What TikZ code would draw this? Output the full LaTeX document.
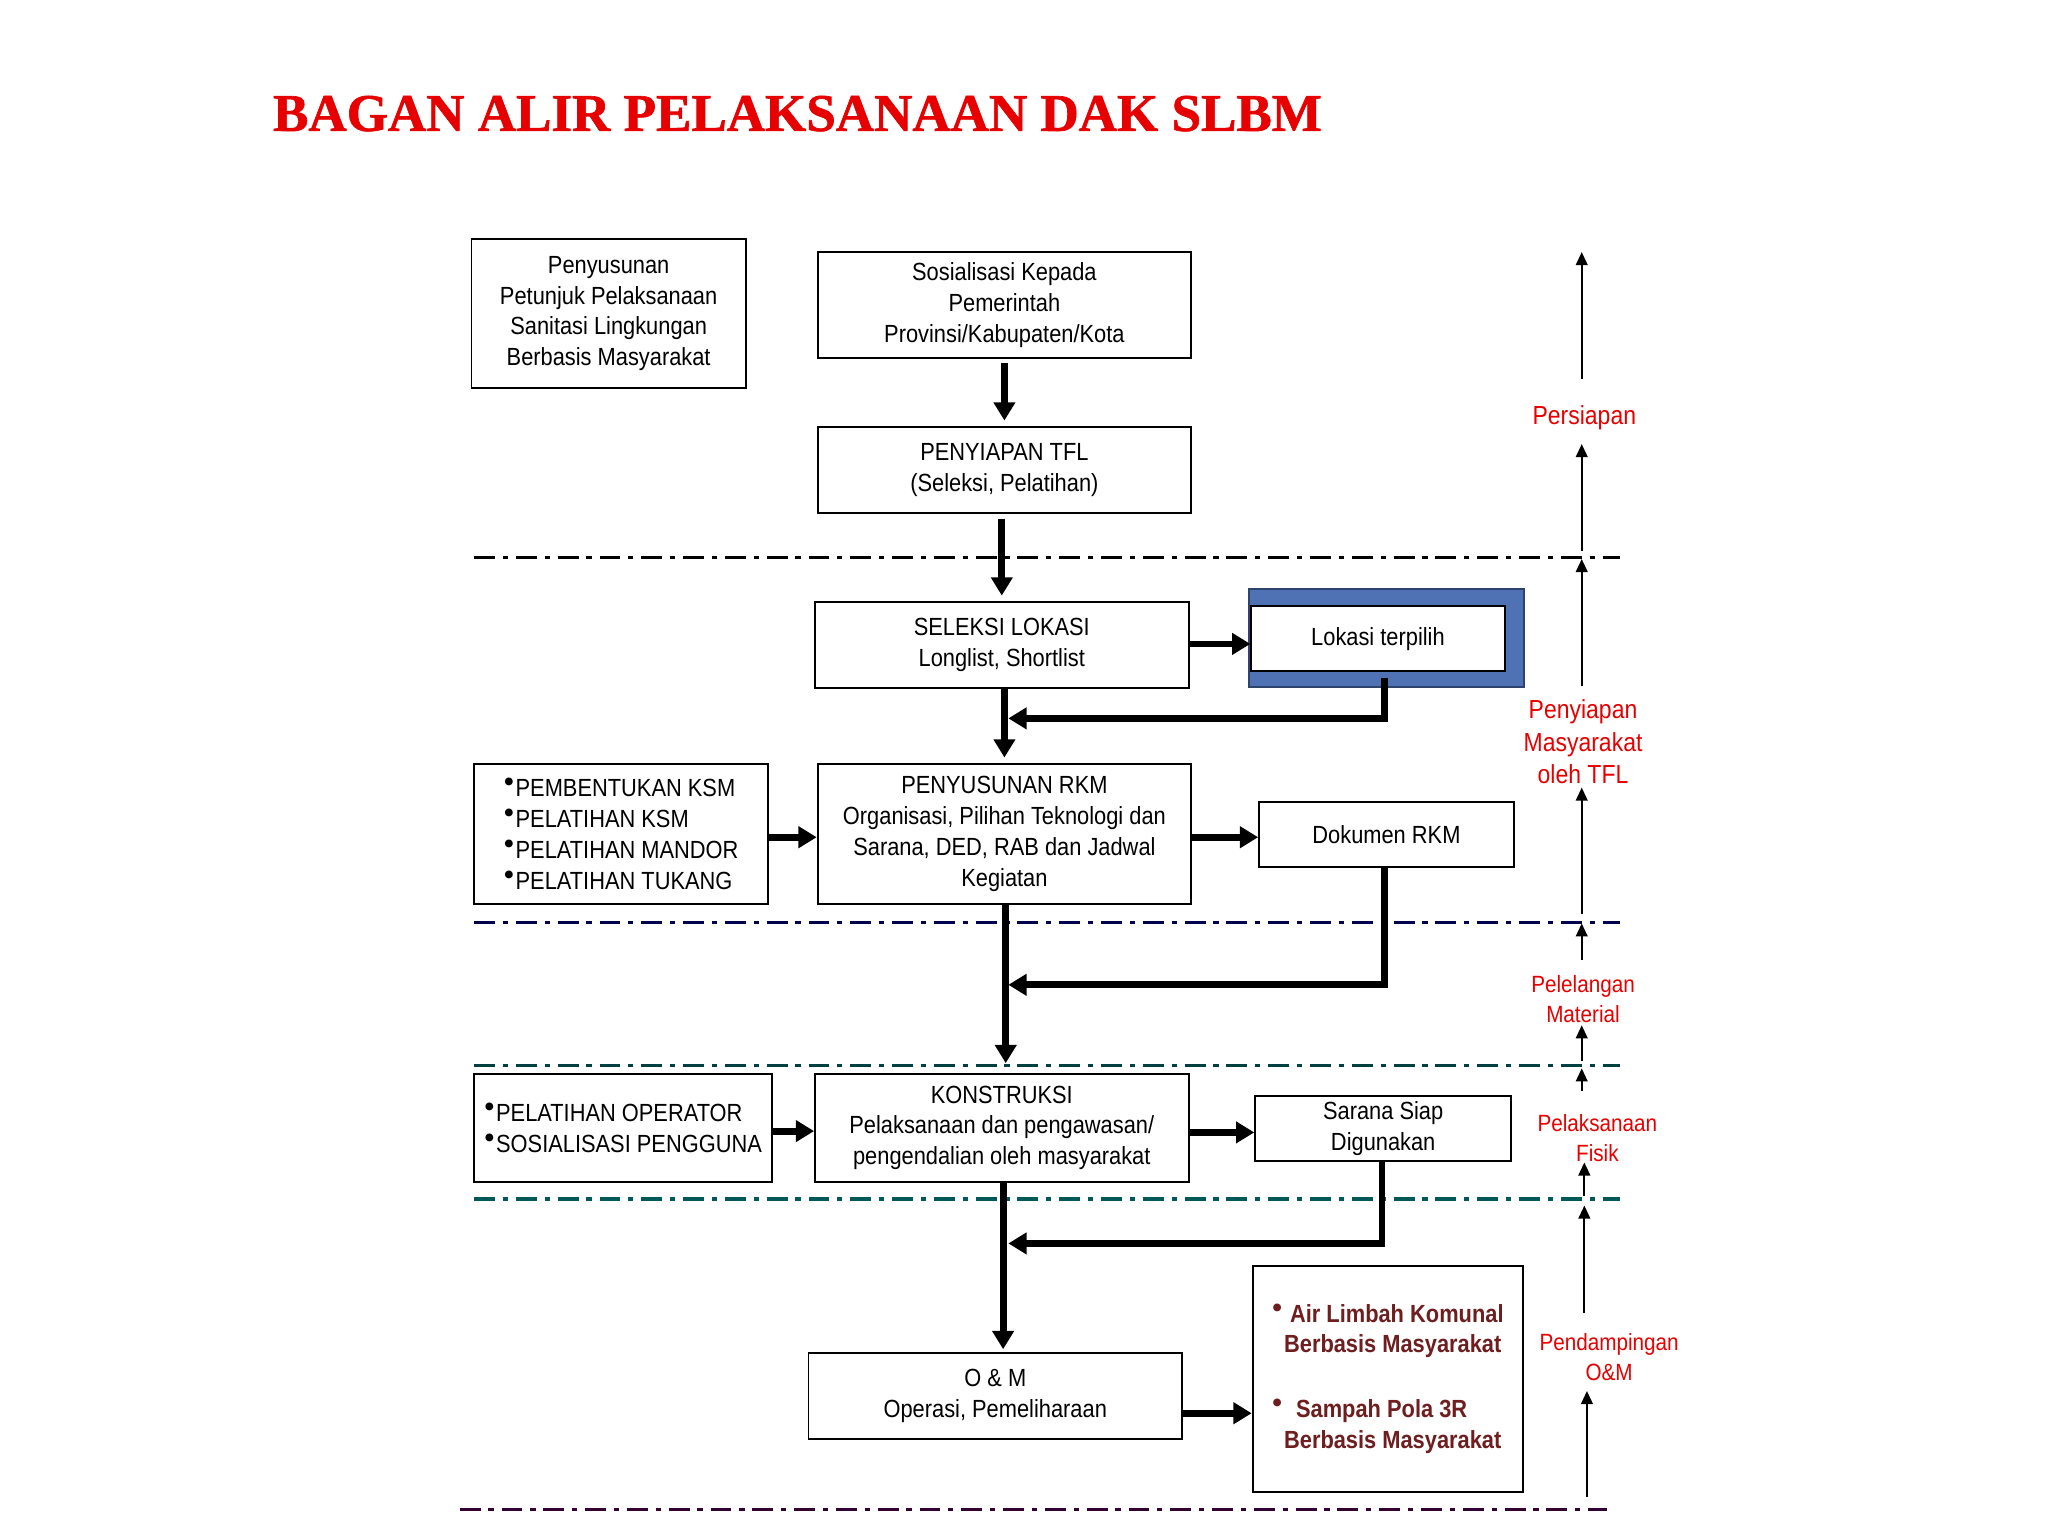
\documentclass[tikz,border=0pt]{standalone}
\usepackage{fontspec}
\setmainfont{Liberation Sans}[FakeStretch=0.88]
\newfontfamily\titlefont{Liberation Serif}[FakeBold=1.2]
\usetikzlibrary{arrows.meta}
\definecolor{tred}{RGB}{230,0,0}
\definecolor{outred}{RGB}{110,30,30}
\definecolor{steel}{RGB}{79,114,180}
\tikzset{x=0.5pt,y=-0.5pt,
 bx/.style={draw,line width=0.7pt,align=center,inner sep=0pt,font=\fontsize{9.5}{11.8}\selectfont},
 fat/.style={line width=2.6pt,-{Triangle[length=7pt,width=8pt]}},
 thin/.style={line width=0.7pt,-{Triangle[length=5pt,width=4.5pt]}},
 lab/.style={text=tred,align=center,font=\fontsize{10}{12.5}\selectfont},
 sep/.style={line width=1.2pt,dash pattern=on 8pt off 3pt on 2pt off 3pt}}
\newcommand{\bxx}[6]{\node[bx,minimum width=#3*0.5pt-#1*0.5pt,minimum height=#4*0.5pt-#2*0.5pt,#6] (#5) at ({(#1+#3)/2},{(#2+#4)/2})}
\begin{document}
\begin{tikzpicture}
\useasboundingbox (0,0) rectangle (1568,1176);
\node[anchor=west,text=tred,font=\titlefont\bfseries\fontsize{20.3}{22}\selectfont] (title) at (202,87) {BAGAN ALIR PELAKSANAAN DAK SLBM};
\bxx{361}{183}{571}{297}{A}{}{Penyusunan\\Petunjuk Pelaksanaan\\Sanitasi Lingkungan\\Berbasis Masyarakat};
\bxx{626}{193}{912}{274}{B}{}{Sosialisasi Kepada\\Pemerintah\\Provinsi/Kabupaten/Kota};
\bxx{626}{327}{912}{393}{C}{}{PENYIAPAN TFL\\(Seleksi, Pelatihan)};
\bxx{624}{461}{910}{527}{D}{}{SELEKSI LOKASI\\Longlist, Shortlist};
\fill[fill=steel, draw=steel!60!black, line width=0.8pt] (956,451) rectangle (1167,526);
\bxx{958}{464}{1152}{514}{E}{fill=white}{Lokasi terpilih};
\bxx{363}{585}{588}{692}{F}{align=left}{$^\bullet$PEMBENTUKAN KSM\\$^\bullet$PELATIHAN KSM\\$^\bullet$PELATIHAN MANDOR\\$^\bullet$PELATIHAN TUKANG};
\bxx{626}{585}{912}{692}{G}{}{PENYUSUNAN RKM\\Organisasi, Pilihan Teknologi dan\\Sarana, DED, RAB dan Jadwal\\Kegiatan};
\bxx{964}{614}{1159}{664}{H}{}{Dokumen RKM};
\bxx{363}{822}{591}{905}{I}{align=left}{$^\bullet$PELATIHAN OPERATOR\\$^\bullet$SOSIALISASI PENGGUNA};
\bxx{624}{822}{910}{905}{J}{}{KONSTRUKSI\\Pelaksanaan dan pengawasan/\\pengendalian oleh masyarakat};
\bxx{961}{839}{1157}{889}{K}{}{Sarana Siap\\Digunakan};
\bxx{619}{1036}{905}{1102}{L}{}{O \& M\\Operasi, Pemeliharaan};
\bxx{959}{969}{1166}{1142}{M}{align=left,text=outred,font=\bfseries\fontsize{9.5}{11.8}\selectfont}{$^\bullet$ Air Limbah Komunal\\\ \ Berbasis Masyarakat\\[13pt]$^\bullet$ \ Sampah Pola 3R\\\ \ Berbasis Masyarakat};
% separators
\draw[sep] (363,427) coordinate (s1a) -- (1240,427) coordinate (s1b);
\draw[sep,color=blue!30!black] (363,706) coordinate (s2a) -- (1240,706) coordinate (s2b);
\draw[sep,color=teal!50!black] (363,816) coordinate (s3a) -- (1240,816) coordinate (s3b);
\draw[sep,color=teal!70!black] (363,918) coordinate (s4a) -- (1240,918) coordinate (s4b);
\draw[sep,color=black!60!violet] (352,1156) coordinate (s5a) -- (1230,1156) coordinate (s5b);
% fat arrows
\draw[fat] (769,278) -- (769,322);
\draw[fat] (767,397) -- (767,456);
\draw[fat] (769,527) -- (769,580);
\draw[fat] (D.east |- 0,493) -- (E.west |- 0,493);
\draw[fat] (1060,519) -- (1060,550) -- (772,550);
\draw[fat] (F.east |- 0,641) -- (G.west |- 0,641);
\draw[fat] (G.east |- 0,641) -- (H.west |- 0,641);
\draw[fat] (770,692) -- (770,814);
\draw[fat] (1060,664) -- (1060,754) -- (772,754);
\draw[fat] (I.east |- 0,866) -- (J.west |- 0,866);
\draw[fat] (J.east |- 0,867) -- (K.west |- 0,867);
\draw[fat] (1058,889) -- (1058,952) -- (772,952);
\draw[fat] (768,905) -- (768,1033);
\draw[fat] (L.east |- 0,1082) -- (M.west |- 0,1082);
% right labels
\node[lab] (p1) at (1213,320) {Persiapan};
\node[lab] (p2) at (1212,568) {Penyiapan\\Masyarakat\\oleh TFL};
\node[lab,font=\fontsize{9}{11.5}\selectfont] (p3) at (1212,765) {Pelelangan\\Material};
\node[lab,font=\fontsize{9}{11.5}\selectfont] (p4) at (1223,871) {Pelaksanaan\\Fisik};
\node[lab,font=\fontsize{9}{11.5}\selectfont] (p5) at (1232,1039) {Pendampingan\\O\&M};
\draw[thin] (1211,290) -- (1211,193);
\draw[thin] (1211,422) -- (1211,340);
\draw[thin] (1211,525) -- (1211,428);
\draw[thin] (1211,700) -- (1211,603);
\draw[thin] (1211,735) -- (1211,707);
\draw[thin] (1211,812) -- (1211,785);
\draw[thin] (1211,835) -- (1211,818);
\draw[thin] (1213,916) -- (1213,890);
\draw[thin] (1213,1005) -- (1213,923);
\draw[thin] (1215,1146) -- (1215,1065);
\end{tikzpicture}
\end{document}
